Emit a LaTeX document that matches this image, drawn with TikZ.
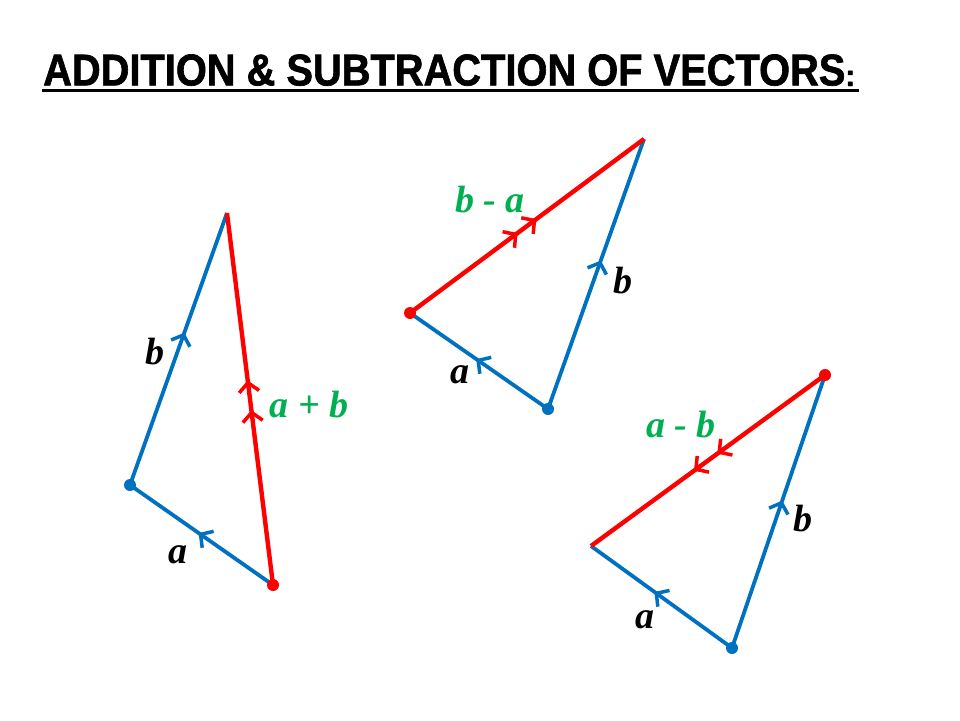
\documentclass[tikz,border=0pt]{standalone}
\usepackage{fontspec}
\setmainfont{Liberation Serif}
\newfontfamily\titlefont[BoldFeatures={FakeBold=1.5}]{Liberation Sans}
\usetikzlibrary{arrows.meta,decorations.markings}
\definecolor{vblue}{HTML}{0070C0}
\definecolor{vred}{HTML}{FF0000}
\definecolor{vgreen}{HTML}{00B050}
\tikzset{
  barb/.tip={Straight Barb[length=9pt,width=20pt,line width=3.5pt]},
  bvec/.style={vblue, line width=3.8pt},
  rvec/.style={vred, line width=4.4pt},
  onehead/.style={postaction={decorate}, decoration={markings,
      mark=at position #1 with {\arrow{barb}}}},
  twohead/.style 2 args={postaction={decorate}, decoration={markings,
      mark=at position #1 with {\arrow{barb}},
      mark=at position #2 with {\arrow{barb}}}},
  bdot/.style={circle, fill=vblue, inner sep=0pt, minimum size=12pt},
  rdot/.style={circle, fill=vred, inner sep=0pt, minimum size=12pt},
  vlab/.style={font=\fontsize{38}{38}\selectfont\bfseries\itshape, text=black, inner sep=0pt},
  glab/.style={vlab, text=vgreen},
}
\begin{document}
\begin{tikzpicture}[x=1pt,y=-1pt]
\useasboundingbox (0,0) rectangle (960,720);
% title
\node[anchor=south west, inner sep=0pt] (title) at (43,86)
  {\resizebox{802pt}{31pt}{\titlefont\bfseries ADDITION \& SUBTRACTION OF VECTORS}};
\node[anchor=base west, inner sep=0pt, font=\titlefont\bfseries\fontsize{30}{30}\selectfont] (colon) at (845,86) {:};
\coordinate (ulL) at (42,90);
\coordinate (ulR) at (859,90);
\draw[line width=3pt] (ulL) -- (ulR);

% triangle 1 : a + b
\coordinate (A1) at (273,585);
\coordinate (B1) at (130,485);
\coordinate (T1) at (227,213);
\draw[bvec, onehead=0.52] (A1) -- (B1);
\draw[bvec, onehead=0.56] (B1) -- (T1);
\draw[rvec, twohead={0.47}{0.55}] (A1) -- (T1);
\node[bdot] (d1b) at (B1) {};
\node[rdot] (d1r) at (A1) {};
\node[vlab] (l1b) at (155,352) {b};
\node[glab] (l1ab) at (309,405) {a + b};
\node[vlab] (l1a) at (178,555) {a};

% triangle 2 : b - a
\coordinate (A2) at (548,409);
\coordinate (B2) at (410,313);
\coordinate (T2) at (644,139);
\draw[bvec, onehead=0.52] (A2) -- (B2);
\draw[bvec, onehead=0.55] (A2) -- (T2);
\draw[rvec, twohead={0.46}{0.54}] (B2) -- (T2);
\node[bdot] (d2b) at (A2) {};
\node[rdot] (d2r) at (B2) {};
\node[glab] (l2ba) at (490,200) {b - a};
\node[vlab] (l2b) at (623,281) {b};
\node[vlab] (l2a) at (460,375) {a};

% triangle 3 : a - b
\coordinate (A3) at (732,648);
\coordinate (B3) at (591,546);
\coordinate (T3) at (825,375);
\draw[bvec, onehead=0.55] (A3) -- (B3);
\draw[bvec, onehead=0.54] (A3) -- (T3);
\draw[rvec, twohead={0.46}{0.56}] (T3) -- (B3);
\node[bdot] (d3b) at (A3) {};
\node[rdot] (d3r) at (T3) {};
\node[glab] (l3ab) at (681,425) {a - b};
\node[vlab] (l3b) at (803,519) {b};
\node[vlab] (l3a) at (645,620) {a};
\end{tikzpicture}
\end{document}
